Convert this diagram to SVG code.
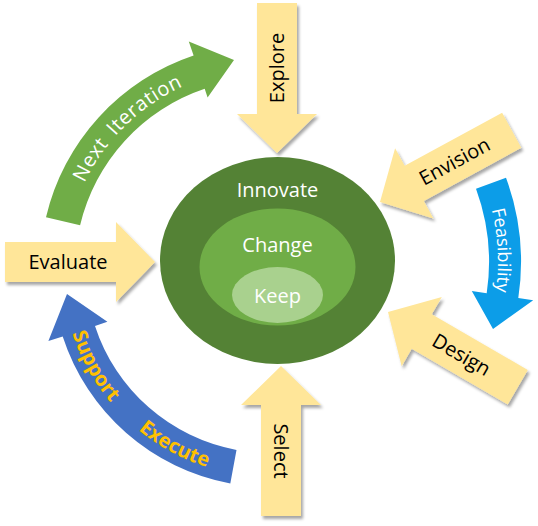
<svg xmlns="http://www.w3.org/2000/svg" width="538" height="526" viewBox="0 0 538 526">
<defs>
<style>
.ya{fill:#FFE699}
.yt{font-family:"Open Sans","Liberation Sans",sans-serif;font-size:20px;fill:#000;text-anchor:middle}
.wt{font-family:"Open Sans","Liberation Sans",sans-serif;font-size:20px;fill:#fff;text-anchor:middle}
.ct{font-family:"Open Sans","Liberation Sans",sans-serif;font-size:20px;fill:#fff;text-anchor:middle}
.ot{font-family:"Open Sans","Liberation Sans",sans-serif;font-size:20px;font-weight:bold;fill:#FFC000;text-anchor:middle}
</style>
<filter id="sh" x="-20%" y="-20%" width="140%" height="140%"><feDropShadow dx="2" dy="3" stdDeviation="1.5" flood-color="#000" flood-opacity="0.35"/></filter>
<polygon id="arr" points="0,0 -39,-40 -39,-20 -150,-20 -150,20 -39,20 -39,40"/>
<path id="tpNext" d="M68,234.3 A200 200 0 0 1 235.1,71.2" fill="none"/>
<path id="tpSup" d="M62.8,287.1 A208 208 0 0 0 144.8,435.1" fill="none"/>
<path id="tpExe" d="M105,395.6 A208 208 0 0 0 253.7,476.4" fill="none"/>
<path id="tpFea" d="M462.3,141.6 A221 221 0 0 1 473.9,362.3" fill="none"/>
</defs>

<g id="core">
<ellipse cx="277.5" cy="260.5" rx="117.5" ry="103.5" fill="#548235"/>
<ellipse cx="277.5" cy="267" rx="78" ry="58.5" fill="#70AD47"/>
<ellipse cx="277.5" cy="295" rx="45.5" ry="28" fill="#A9D18E"/>
<text class="wt" x="277.5" y="197">Innovate</text>
<text class="wt" x="277.5" y="252">Change</text>
<text class="wt" x="277.5" y="303">Keep</text>
</g>

<g id="explore">
<g filter="url(#sh)"><use href="#arr" class="ya" transform="translate(277,153) rotate(90)"/></g>
<text class="yt" transform="translate(277,68) rotate(-90)" y="7">Explore</text>
</g>

<g id="evaluate">
<g filter="url(#sh)"><use href="#arr" class="ya" transform="translate(155,262)"/></g>
<text class="yt" x="68" y="269">Evaluate</text>
</g>

<g id="select">
<g filter="url(#sh)"><use href="#arr" class="ya" transform="translate(281,366) rotate(-90)"/></g>
<text class="yt" transform="translate(281,451) rotate(90)" y="7">Select</text>
</g>

<g id="envision">
<g filter="url(#sh)"><use href="#arr" class="ya" transform="translate(380,202) rotate(151.4)"/></g>
<text class="yt" transform="translate(454.6,161.3) rotate(-28.6)" y="7">Envision</text>
</g>

<g id="design">
<g filter="url(#sh)"><use href="#arr" class="ya" transform="translate(388,312) rotate(210.1)"/></g>
<text class="yt" transform="translate(461.5,354.7) rotate(30.1)" y="7">Design</text>
</g>

<g id="connectors">
<g id="next-iteration">
<path d="M46,217.2 A225 225 0 0 1 193.6,55.6 L188.8,41.4 L234,60 L207.6,97.4 L204.7,88.8 A190 190 0 0 0 80.1,225.3 Z" fill="#70AD47"/>
<text class="ct" style="letter-spacing:0.6px;word-spacing:4px"><textPath href="#tpNext" startOffset="50%">Next Iteration</textPath></text>
</g>
<g id="support-execute">
<path d="M230.3,483.4 A218 218 0 0 1 62.7,336.4 L48.4,341 L67,294 L107.4,321.8 L95,325.9 A184 184 0 0 0 236.5,449.9 Z" fill="#4472C4"/>
<text class="ot"><textPath href="#tpSup" startOffset="50%">Support</textPath></text>
<text class="ot"><textPath href="#tpExe" startOffset="50%">Execute</textPath></text>
</g>
<g id="feasibility">
<path d="M506,177.7 A244 244 0 0 1 518.3,298.1 L533.2,300.3 L493,329 L471.8,291.1 L486.7,293.3 A212 212 0 0 0 476,188.8 Z" fill="#0C9DE8"/>
<text class="ct" style="font-size:18px"><textPath href="#tpFea" startOffset="50%">Feasibility</textPath></text>
</g>
</g>
</svg>
